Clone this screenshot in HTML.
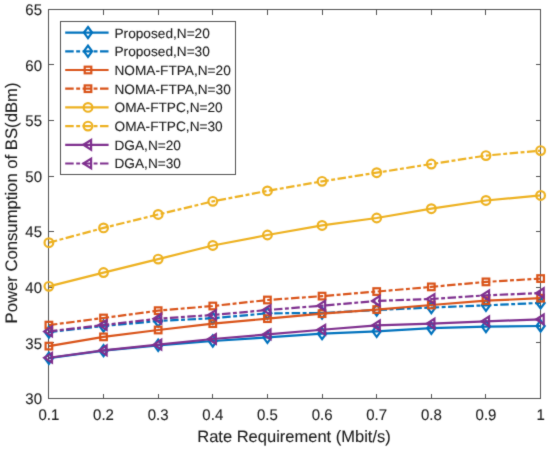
<!DOCTYPE html>
<html><head><meta charset="utf-8"><style>
html,body{margin:0;padding:0;background:#fff;width:550px;height:450px;overflow:hidden}
svg{display:block}
text{text-rendering:geometricPrecision;font-family:"Liberation Sans",Arial,Helvetica,sans-serif;fill:#1a1a1a;stroke:#1a1a1a;stroke-width:0.1px}
</style></head><body>
<svg width="550" height="450" viewBox="0 0 550 450">
<defs><filter id="bl" x="0" y="0" width="550" height="450" filterUnits="userSpaceOnUse" color-interpolation-filters="sRGB"><feConvolveMatrix order="3" kernelMatrix="0.02 0.08 0.02 0.08 0.6 0.08 0.02 0.08 0.02" edgeMode="duplicate"/></filter></defs>
<g filter="url(#bl)">
<rect width="550" height="450" fill="#fff"/>

<g fill="none" stroke="#515151" stroke-width="1" shape-rendering="crispEdges">
<rect x="48.5" y="9.5" width="492" height="389"/>
<path d="M48.90 398.5V393.5M48.90 9.5V14.5M103.53 398.5V393.5M103.53 9.5V14.5M158.17 398.5V393.5M158.17 9.5V14.5M212.80 398.5V393.5M212.80 9.5V14.5M267.43 398.5V393.5M267.43 9.5V14.5M322.07 398.5V393.5M322.07 9.5V14.5M376.70 398.5V393.5M376.70 9.5V14.5M431.33 398.5V393.5M431.33 9.5V14.5M485.97 398.5V393.5M485.97 9.5V14.5M540.60 398.5V393.5M540.60 9.5V14.5M48.5 398.20H53.5M540.5 398.20H535.5M48.5 342.66H53.5M540.5 342.66H535.5M48.5 287.11H53.5M540.5 287.11H535.5M48.5 231.57H53.5M540.5 231.57H535.5M48.5 176.03H53.5M540.5 176.03H535.5M48.5 120.49H53.5M540.5 120.49H535.5M48.5 64.94H53.5M540.5 64.94H535.5M48.5 9.40H53.5M540.5 9.40H535.5"/>
</g>
<g font-size="15.4" text-anchor="end">
<text transform="translate(42 404.10) scale(0.975 1)">30</text>
<text transform="translate(42 348.56) scale(0.975 1)">35</text>
<text transform="translate(42 293.01) scale(0.975 1)">40</text>
<text transform="translate(42 237.47) scale(0.975 1)">45</text>
<text transform="translate(42 181.93) scale(0.975 1)">50</text>
<text transform="translate(42 126.39) scale(0.975 1)">55</text>
<text transform="translate(42 70.84) scale(0.975 1)">60</text>
<text transform="translate(42 15.30) scale(0.975 1)">65</text>
</g>
<g font-size="15.4" text-anchor="middle">
<text transform="translate(48.90 419.9) scale(0.975 1)">0.1</text>
<text transform="translate(103.53 419.9) scale(0.975 1)">0.2</text>
<text transform="translate(158.17 419.9) scale(0.975 1)">0.3</text>
<text transform="translate(212.80 419.9) scale(0.975 1)">0.4</text>
<text transform="translate(267.43 419.9) scale(0.975 1)">0.5</text>
<text transform="translate(322.07 419.9) scale(0.975 1)">0.6</text>
<text transform="translate(376.70 419.9) scale(0.975 1)">0.7</text>
<text transform="translate(431.33 419.9) scale(0.975 1)">0.8</text>
<text transform="translate(485.97 419.9) scale(0.975 1)">0.9</text>
<text transform="translate(540.60 419.9) scale(0.975 1)">1</text>
</g>
<text x="294.0" y="441.8" font-size="16.5" text-anchor="middle">Rate Requirement (Mbit/s)</text>
<text transform="translate(17.3 203.0) rotate(-90)" font-size="16.68" text-anchor="middle">Power Consumption of BS(dBm)</text>
<g fill="none" stroke-width="2.2" stroke-linejoin="miter" stroke-miterlimit="10">
<polyline stroke="#0072BD" points="48.90,358.21 103.53,350.66 158.17,345.32 212.80,340.99 267.43,337.33 322.07,333.66 376.70,331.33 431.33,328.22 485.97,326.55 540.60,325.99"/>
<g stroke="#0072BD"><path d="M48.90 352.61L53.00 358.21L48.90 363.81L44.80 358.21Z"/><path d="M103.53 345.06L107.63 350.66L103.53 356.26L99.43 350.66Z"/><path d="M158.17 339.72L162.27 345.32L158.17 350.92L154.07 345.32Z"/><path d="M212.80 335.39L216.90 340.99L212.80 346.59L208.70 340.99Z"/><path d="M267.43 331.73L271.53 337.33L267.43 342.93L263.33 337.33Z"/><path d="M322.07 328.06L326.17 333.66L322.07 339.26L317.97 333.66Z"/><path d="M376.70 325.73L380.80 331.33L376.70 336.93L372.60 331.33Z"/><path d="M431.33 322.62L435.43 328.22L431.33 333.82L427.23 328.22Z"/><path d="M485.97 320.95L490.07 326.55L485.97 332.15L481.87 326.55Z"/><path d="M540.60 320.39L544.70 325.99L540.60 331.59L536.50 325.99Z"/></g>
<polyline stroke="#0072BD" stroke-dasharray="8.5 2.5 3.9 2.5" points="48.90,332.10 103.53,325.99 158.17,321.00 212.80,318.22 267.43,313.33 322.07,313.00 376.70,310.00 431.33,307.55 485.97,305.33 540.60,302.89"/>
<g stroke="#0072BD"><path d="M48.90 326.50L53.00 332.10L48.90 337.70L44.80 332.10Z"/><path d="M103.53 320.39L107.63 325.99L103.53 331.59L99.43 325.99Z"/><path d="M158.17 315.40L162.27 321.00L158.17 326.60L154.07 321.00Z"/><path d="M212.80 312.62L216.90 318.22L212.80 323.82L208.70 318.22Z"/><path d="M267.43 307.73L271.53 313.33L267.43 318.93L263.33 313.33Z"/><path d="M322.07 307.40L326.17 313.00L322.07 318.60L317.97 313.00Z"/><path d="M376.70 304.40L380.80 310.00L376.70 315.60L372.60 310.00Z"/><path d="M431.33 301.95L435.43 307.55L431.33 313.15L427.23 307.55Z"/><path d="M485.97 299.73L490.07 305.33L485.97 310.93L481.87 305.33Z"/><path d="M540.60 297.29L544.70 302.89L540.60 308.49L536.50 302.89Z"/></g>
<polyline stroke="#D95319" points="48.90,346.10 103.53,336.88 158.17,329.99 212.80,323.66 267.43,318.66 322.07,313.66 376.70,309.55 431.33,305.00 485.97,300.67 540.60,298.22"/>
<g stroke="#D95319"><rect x="45.60" y="342.80" width="6.60" height="6.60"/><rect x="100.23" y="333.58" width="6.60" height="6.60"/><rect x="154.87" y="326.69" width="6.60" height="6.60"/><rect x="209.50" y="320.36" width="6.60" height="6.60"/><rect x="264.13" y="315.36" width="6.60" height="6.60"/><rect x="318.77" y="310.36" width="6.60" height="6.60"/><rect x="373.40" y="306.25" width="6.60" height="6.60"/><rect x="428.03" y="301.70" width="6.60" height="6.60"/><rect x="482.67" y="297.37" width="6.60" height="6.60"/><rect x="537.30" y="294.92" width="6.60" height="6.60"/></g>
<polyline stroke="#D95319" stroke-dasharray="8.5 2.5 3.9 2.5" points="48.90,325.11 103.53,318.00 158.17,310.66 212.80,306.00 267.43,300.00 322.07,296.11 376.70,291.56 431.33,286.89 485.97,281.89 540.60,278.56"/>
<g stroke="#D95319"><rect x="45.60" y="321.81" width="6.60" height="6.60"/><rect x="100.23" y="314.70" width="6.60" height="6.60"/><rect x="154.87" y="307.36" width="6.60" height="6.60"/><rect x="209.50" y="302.70" width="6.60" height="6.60"/><rect x="264.13" y="296.70" width="6.60" height="6.60"/><rect x="318.77" y="292.81" width="6.60" height="6.60"/><rect x="373.40" y="288.26" width="6.60" height="6.60"/><rect x="428.03" y="283.59" width="6.60" height="6.60"/><rect x="482.67" y="278.59" width="6.60" height="6.60"/><rect x="537.30" y="275.26" width="6.60" height="6.60"/></g>
<polyline stroke="#EDB120" points="48.90,286.34 103.53,272.56 158.17,259.12 212.80,245.46 267.43,235.02 322.07,225.46 376.70,218.02 431.33,208.69 485.97,200.47 540.60,195.47"/>
<g stroke="#EDB120"><circle cx="48.90" cy="286.34" r="4.35"/><circle cx="103.53" cy="272.56" r="4.35"/><circle cx="158.17" cy="259.12" r="4.35"/><circle cx="212.80" cy="245.46" r="4.35"/><circle cx="267.43" cy="235.02" r="4.35"/><circle cx="322.07" cy="225.46" r="4.35"/><circle cx="376.70" cy="218.02" r="4.35"/><circle cx="431.33" cy="208.69" r="4.35"/><circle cx="485.97" cy="200.47" r="4.35"/><circle cx="540.60" cy="195.47" r="4.35"/></g>
<polyline stroke="#EDB120" stroke-dasharray="8.5 2.5 3.9 2.5" points="48.90,242.68 103.53,227.91 158.17,214.46 212.80,201.36 267.43,190.91 322.07,181.36 376.70,172.70 431.33,164.03 485.97,155.59 540.60,150.59"/>
<g stroke="#EDB120"><circle cx="48.90" cy="242.68" r="4.35"/><circle cx="103.53" cy="227.91" r="4.35"/><circle cx="158.17" cy="214.46" r="4.35"/><circle cx="212.80" cy="201.36" r="4.35"/><circle cx="267.43" cy="190.91" r="4.35"/><circle cx="322.07" cy="181.36" r="4.35"/><circle cx="376.70" cy="172.70" r="4.35"/><circle cx="431.33" cy="164.03" r="4.35"/><circle cx="485.97" cy="155.59" r="4.35"/><circle cx="540.60" cy="150.59" r="4.35"/></g>
<polyline stroke="#7E2F8E" points="48.90,357.76 103.53,350.32 158.17,344.66 212.80,338.99 267.43,334.44 322.07,329.77 376.70,325.44 431.33,323.66 485.97,321.33 540.60,319.33"/>
<g stroke="#7E2F8E"><path d="M44.30 357.76L52.00 352.91L52.00 362.61Z"/><path d="M98.93 350.32L106.63 345.47L106.63 355.17Z"/><path d="M153.57 344.66L161.27 339.81L161.27 349.51Z"/><path d="M208.20 338.99L215.90 334.14L215.90 343.84Z"/><path d="M262.83 334.44L270.53 329.59L270.53 339.29Z"/><path d="M317.47 329.77L325.17 324.92L325.17 334.62Z"/><path d="M372.10 325.44L379.80 320.59L379.80 330.29Z"/><path d="M426.73 323.66L434.43 318.81L434.43 328.51Z"/><path d="M481.37 321.33L489.07 316.48L489.07 326.18Z"/><path d="M536.00 319.33L543.70 314.48L543.70 324.18Z"/></g>
<polyline stroke="#7E2F8E" stroke-dasharray="8.5 2.5 3.9 2.5" points="48.90,331.44 103.53,324.99 158.17,318.66 212.80,315.00 267.43,310.00 322.07,305.67 376.70,300.89 431.33,299.00 485.97,295.33 540.60,293.11"/>
<g stroke="#7E2F8E"><path d="M44.30 331.44L52.00 326.59L52.00 336.29Z"/><path d="M98.93 324.99L106.63 320.14L106.63 329.84Z"/><path d="M153.57 318.66L161.27 313.81L161.27 323.51Z"/><path d="M208.20 315.00L215.90 310.15L215.90 319.85Z"/><path d="M262.83 310.00L270.53 305.15L270.53 314.85Z"/><path d="M317.47 305.67L325.17 300.82L325.17 310.52Z"/><path d="M372.10 300.89L379.80 296.04L379.80 305.74Z"/><path d="M426.73 299.00L434.43 294.15L434.43 303.85Z"/><path d="M481.37 295.33L489.07 290.48L489.07 300.18Z"/><path d="M536.00 293.11L543.70 288.26L543.70 297.96Z"/></g>
</g>
<rect x="60.5" y="21.5" width="175.0" height="153.0" fill="#fff" stroke="#515151" stroke-width="1" shape-rendering="crispEdges"/>
<g fill="none" stroke-width="2.2">
<path stroke="#0072BD" d="M65.2 32.60H108.6"/>
<g stroke="#0072BD"><path d="M88.00 27.00L92.10 32.60L88.00 38.20L83.90 32.60Z"/></g>
<path stroke="#0072BD" stroke-dasharray="8.5 2.5 3.9 2.5" d="M65.2 51.30H108.6"/>
<g stroke="#0072BD"><path d="M88.00 45.70L92.10 51.30L88.00 56.90L83.90 51.30Z"/></g>
<path stroke="#D95319" d="M65.2 70.00H108.6"/>
<g stroke="#D95319"><rect x="84.70" y="66.70" width="6.60" height="6.60"/></g>
<path stroke="#D95319" stroke-dasharray="8.5 2.5 3.9 2.5" d="M65.2 88.70H108.6"/>
<g stroke="#D95319"><rect x="84.70" y="85.40" width="6.60" height="6.60"/></g>
<path stroke="#EDB120" d="M65.2 107.40H108.6"/>
<g stroke="#EDB120"><circle cx="88.00" cy="107.40" r="4.35"/></g>
<path stroke="#EDB120" stroke-dasharray="8.5 2.5 3.9 2.5" d="M65.2 126.10H108.6"/>
<g stroke="#EDB120"><circle cx="88.00" cy="126.10" r="4.35"/></g>
<path stroke="#7E2F8E" d="M65.2 144.80H108.6"/>
<g stroke="#7E2F8E"><path d="M83.40 144.80L91.10 139.95L91.10 149.65Z"/></g>
<path stroke="#7E2F8E" stroke-dasharray="8.5 2.5 3.9 2.5" d="M65.2 163.50H108.6"/>
<g stroke="#7E2F8E"><path d="M83.40 163.50L91.10 158.65L91.10 168.35Z"/></g>
</g>
<g font-size="13.5">
<text transform="translate(114.5 37.50) scale(1.012 1)">Proposed,N=20</text>
<text transform="translate(114.5 56.20) scale(1.012 1)">Proposed,N=30</text>
<text transform="translate(114.5 74.90) scale(1.012 1)">NOMA-FTPA,N=20</text>
<text transform="translate(114.5 93.60) scale(1.012 1)">NOMA-FTPA,N=30</text>
<text transform="translate(114.5 112.30) scale(1.012 1)">OMA-FTPC,N=20</text>
<text transform="translate(114.5 131.00) scale(1.012 1)">OMA-FTPC,N=30</text>
<text transform="translate(114.5 149.70) scale(1.012 1)">DGA,N=20</text>
<text transform="translate(114.5 168.40) scale(1.012 1)">DGA,N=30</text>
</g>
</g></svg>
</body></html>
